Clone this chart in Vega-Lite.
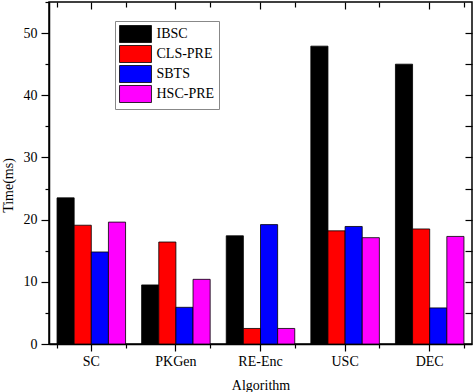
{
  "$schema": "https://vega.github.io/schema/vega-lite/v6.json",
  "width": 423,
  "height": 342,
  "autosize": "none",
  "padding": {"left": 49, "top": 2, "right": 2, "bottom": 48},
  "background": "white",
  "config": {
    "font": "Liberation Serif",
    "view": {"stroke": "black", "strokeWidth": 1.5},
    "axis": {"domainColor": "black", "tickColor": "black", "labelColor": "black", "titleColor": "black", "labelFont": "Liberation Serif", "titleFont": "Liberation Serif", "labelFontSize": 14, "titleFontSize": 14, "titleFontWeight": "normal", "grid": false, "domainWidth": 1.5, "tickWidth": 1.2}
  },
  "data": {"values": [
    {"alg": "SC", "scheme": "IBSC", "t": 23.5},
    {"alg": "SC", "scheme": "CLS-PRE", "t": 19.1},
    {"alg": "SC", "scheme": "SBTS", "t": 14.8},
    {"alg": "SC", "scheme": "HSC-PRE", "t": 19.6},
    {"alg": "PKGen", "scheme": "IBSC", "t": 9.5},
    {"alg": "PKGen", "scheme": "CLS-PRE", "t": 16.4},
    {"alg": "PKGen", "scheme": "SBTS", "t": 5.9},
    {"alg": "PKGen", "scheme": "HSC-PRE", "t": 10.4},
    {"alg": "RE-Enc", "scheme": "IBSC", "t": 17.4},
    {"alg": "RE-Enc", "scheme": "CLS-PRE", "t": 2.5},
    {"alg": "RE-Enc", "scheme": "SBTS", "t": 19.2},
    {"alg": "RE-Enc", "scheme": "HSC-PRE", "t": 2.5},
    {"alg": "USC", "scheme": "IBSC", "t": 47.9},
    {"alg": "USC", "scheme": "CLS-PRE", "t": 18.2},
    {"alg": "USC", "scheme": "SBTS", "t": 18.9},
    {"alg": "USC", "scheme": "HSC-PRE", "t": 17.1},
    {"alg": "DEC", "scheme": "IBSC", "t": 45.0},
    {"alg": "DEC", "scheme": "CLS-PRE", "t": 18.5},
    {"alg": "DEC", "scheme": "SBTS", "t": 5.8},
    {"alg": "DEC", "scheme": "HSC-PRE", "t": 17.3}
  ]},
  "encoding": {
    "x": {"field": "alg", "type": "nominal", "sort": ["SC", "PKGen", "RE-Enc", "USC", "DEC"], "scale": {"paddingInner": 0.19, "paddingOuter": 0.095}},
    "y": {"field": "t", "type": "quantitative", "scale": {"domain": [0, 55], "nice": false}}
  },
  "layer": [
    {
      "mark": {"type": "bar", "stroke": "black", "strokeWidth": 0.8},
      "encoding": {
        "x": {"field": "alg", "type": "nominal", "sort": ["SC", "PKGen", "RE-Enc", "USC", "DEC"], "title": "Algorithm",
          "axis": {"orient": "bottom", "labelAngle": 0, "tickSize": 7, "labelPadding": 3, "titlePadding": 10, "domain": true}},
        "y": {"field": "t", "type": "quantitative", "title": "Time(ms)",
          "axis": {"orient": "left", "values": [0, 5, 10, 15, 20, 25, 30, 35, 40, 45, 50, 55], "labelExpr": "datum.value % 10 === 0 && datum.value < 55 ? datum.label : ''",
            "tickSize": {"condition": {"test": "datum.value % 10 === 0", "value": 8}, "value": 4}, "labelPadding": 4, "titlePadding": 8, "titleY": 183}},
        "xOffset": {"field": "scheme", "sort": ["IBSC", "CLS-PRE", "SBTS", "HSC-PRE"], "scale": {"paddingInner": 0, "paddingOuter": 0}},
        "color": {"field": "scheme", "type": "nominal", "sort": ["IBSC", "CLS-PRE", "SBTS", "HSC-PRE"],
          "scale": {"domain": ["IBSC", "CLS-PRE", "SBTS", "HSC-PRE"], "range": ["#000000", "#ff0000", "#0000ff", "#ff00ff"]},
          "legend": {"title": null, "orient": "none", "legendX": 66, "legendY": 19, "labelFont": "Liberation Serif", "labelFontSize": 14, "labelColor": "black",
            "symbolType": "M-1.88,-1L1.88,-1L1.88,1L-1.88,1Z", "symbolSize": 289, "symbolStrokeColor": "black", "symbolStrokeWidth": 0.8, "symbolOpacity": 1,
            "symbolOffset": 7.5, "rowPadding": -6, "labelOffset": 12, "padding": 4, "strokeColor": "#888888", "fillColor": "white", "labelLimit": 200}}
      }
    },
    {
      "mark": {"type": "bar", "opacity": 0},
      "encoding": {
        "x": {"field": "alg", "type": "nominal", "sort": ["SC", "PKGen", "RE-Enc", "USC", "DEC"], "title": null,
          "axis": {"orient": "bottom", "labels": false, "domain": false, "tickBand": "extent", "tickSize": 4}},
        "y": {"field": "t", "type": "quantitative", "title": null,
          "axis": {"orient": "right", "labels": false, "domain": false, "values": [5, 10, 15, 20, 25, 30, 35, 40, 45, 50], "tickSize": 7, "offset": -7}}
      }
    },
    {
      "mark": {"type": "bar", "opacity": 0},
      "encoding": {
        "x": {"field": "alg", "type": "nominal", "sort": ["SC", "PKGen", "RE-Enc", "USC", "DEC"], "title": null,
          "axis": {"orient": "top", "labels": false, "domain": false, "tickSize": 7, "offset": -7}},
        "y": {"field": "t", "type": "quantitative", "axis": null}
      }
    },
    {
      "mark": {"type": "bar", "opacity": 0},
      "encoding": {
        "x": {"field": "alg", "type": "nominal", "sort": ["SC", "PKGen", "RE-Enc", "USC", "DEC"], "title": null,
          "axis": {"orient": "top", "labels": false, "domain": false, "tickBand": "extent", "tickSize": 5, "offset": -5}},
        "y": {"field": "t", "type": "quantitative", "axis": null}
      }
    }
  ],
  "resolve": {"axis": {"x": "independent", "y": "independent"}}
}
